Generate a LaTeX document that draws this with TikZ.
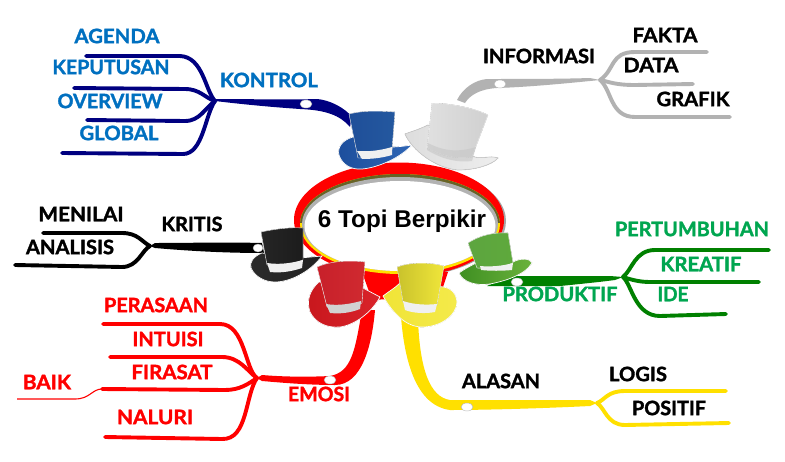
\documentclass[tikz,border=0pt]{standalone}
\usepackage{graphicx}
\usepackage{fontspec}
\setmainfont{Liberation Sans}
\newfontfamily\lblfont[BoldFeatures={FakeBold=1.6}]{Lato}
\usetikzlibrary{shapes.geometric}
\definecolor{cblue}{HTML}{000080}
\definecolor{cgray}{HTML}{B2B2B2}
\definecolor{cgreen}{HTML}{008000}
\definecolor{cyel}{HTML}{FFE000}
\definecolor{tblue}{HTML}{0070C0}
\definecolor{tgreen}{HTML}{00A650}
\newcommand{\lbl}[2]{\resizebox{#1pt}{14.5pt}{\lblfont\bfseries #2}}
\tikzset{
  leaf/.style={draw=#1,line width=3.9,line cap=round,fill=none},
  trunk/.style={fill=#1,draw=none},
  dot/.style={ellipse,fill=white,draw=gray!60,line width=.4,minimum width=12,minimum height=8,inner sep=0},
  lab/.style={text=#1,inner sep=0},
  brim/.style n args={2}{/utils/exec={\definecolor{aa}{HTML}{#1}\definecolor{bb}{HTML}{#2}},draw=white,line width=.7,left color=aa,right color=bb},
  crown/.style n args={3}{/utils/exec={\definecolor{aa}{HTML}{#1}\definecolor{bb}{HTML}{#2}\definecolor{cc}{HTML}{#3}},draw=white,line width=.4,left color=aa,middle color=bb,right color=cc},
  band/.style={fill=white!88!gray,draw=none},
}
\begin{document}
\begin{tikzpicture}[x=1pt,y=-1pt]
\useasboundingbox (0,0) rectangle (785,461);
\fill[white] (0,0) rectangle (785,461);
% junctions and leaf ends
\coordinate (jb) at (215,101);
\coordinate (b1) at (86,56); \coordinate (b2) at (74,88); \coordinate (b3) at (87,120); \coordinate (b4) at (62,153);
\coordinate (jw) at (600,80);
\coordinate (w1) at (707,52); \coordinate (w2) at (693,84); \coordinate (w3) at (730,117);
\coordinate (jk) at (150,246);
\coordinate (k1) at (43,233); \coordinate (k2) at (15,265);
\coordinate (jr) at (257,378);
\coordinate (r1) at (103,324); \coordinate (r2) at (110,357); \coordinate (r3) at (102,389); \coordinate (r4) at (105,437); \coordinate (r5) at (17,399);
\coordinate (jy) at (597,403);
\coordinate (y1) at (726,391); \coordinate (y2) at (729,423);
\coordinate (jg) at (623,277);
\coordinate (g1) at (769,250); \coordinate (g2) at (759,282); \coordinate (g3) at (726,314);
% blue
\draw[leaf=cblue] (jb) .. controls (205,90) and (203,57) .. (180,56) -- (b1);
\draw[leaf=cblue] (jb) .. controls (205,98) and (200,89) .. (185,89) -- (b2);
\draw[leaf=cblue] (jb) .. controls (205,108) and (200,121) .. (185,121) -- (b3);
\draw[leaf=cblue] (jb) .. controls (205,115) and (203,154) .. (183,154) -- (b4);
\fill[trunk=cblue] (jb) -- (216,99) .. controls (250,99) and (290,100) .. (317,99) .. controls (330,100) and (345,108) .. (352,117) -- (350,127) .. controls (340,115) and (325,110) .. (300,109) .. controls (270,107) and (240,104) .. (jb) -- cycle;
% gray
\draw[leaf=cgray] (jw) .. controls (615,70) and (610,52) .. (635,52) -- (w1);
\draw[leaf=cgray] (jw) .. controls (610,82) and (615,85) .. (635,85) -- (w2);
\draw[leaf=cgray] (jw) .. controls (612,90) and (610,117) .. (635,117) -- (w3);
\fill[trunk=cgray] (jw) -- (590,78) .. controls (560,79) and (520,79) .. (487,79) .. controls (475,80) and (463,88) .. (457,100) -- (465,103) .. controls (470,95) and (480,89) .. (497,88) .. controls (530,87) and (570,83) .. (jw) -- cycle;
% black
\draw[leaf=black] (jk) .. controls (142,242) and (138,233) .. (122,233) -- (k1);
\draw[leaf=black] (jk) .. controls (142,250) and (138,267) .. (122,267) -- (k2);
\fill[trunk=black] (jk) -- (155,243) .. controls (190,243) and (225,242) .. (262,243) -- (264,253) .. controls (225,253) and (190,251) .. (155,248) -- cycle;
% red
\draw[leaf=red] (jr) .. controls (245,370) and (245,324) .. (220,324) -- (r1);
\draw[leaf=red] (jr) .. controls (248,372) and (240,357) .. (222,357) -- (r2);
\draw[leaf=red] (jr) .. controls (248,384) and (240,390) .. (225,390) -- (r3);
\draw[leaf=red] (jr) .. controls (245,395) and (248,440) .. (222,439) -- (r4);
\draw[draw=red,line width=1.1] (r3) .. controls (92,389) and (90,399) .. (75,399) -- (r5);
\fill[trunk=red] (jr) -- (262,375) .. controls (285,377) and (310,377) .. (330,376) .. controls (352,372) and (355,350) .. (362,310) -- (375,310) .. controls (372,345) and (362,385) .. (335,385) .. controls (310,385) and (285,383) .. (262,381) -- cycle;
% yellow
\draw[leaf=cyel] (jy) .. controls (605,400) and (607,391) .. (625,391) -- (y1);
\draw[leaf=cyel] (jy) .. controls (605,408) and (607,425) .. (625,425) -- (y2);
\fill[trunk=cyel] (jy) -- (590,400) .. controls (550,400) and (490,400) .. (450,400) .. controls (430,397) and (420,370) .. (418,320) -- (400,300) .. controls (402,350) and (412,405) .. (450,410) .. controls (490,410) and (550,408) .. (590,406) -- cycle;
% green
\draw[leaf=cgreen] (jg) .. controls (632,270) and (635,250) .. (655,250) -- (g1);
\draw[leaf=cgreen] (jg) .. controls (632,280) and (640,282) .. (650,282) -- (g2);
\draw[leaf=cgreen] (jg) .. controls (632,285) and (635,316) .. (660,316) -- (g3);
\fill[trunk=cgreen] (jg) -- (610,276) -- (510,276) -- (487,286) -- (560,286) .. controls (580,284) and (600,282) .. (615,280) -- cycle;
% ring
\node[ellipse,inner sep=0,minimum width=210,minimum height=113,fill=gray!70] (ringshadow) at (401,221) {};
\node[ellipse,inner sep=0,minimum width=210,minimum height=115,fill=red] (ring) at (399,220) {};
\fill[red] (362,272) -- (448,272) -- (440,296) -- (372,300) -- cycle;
\node[ellipse,inner sep=0,minimum width=200,minimum height=100,fill=cyel] (ringy) at (400,224) {};
\begin{scope}
\clip (290,160) rectangle (510,222);
\node[ellipse,inner sep=0,minimum width=200,minimum height=100,fill=black!35!olive] (ringo) at (400,224) {};
\end{scope}
\node[ellipse,inner sep=0,minimum width=196,minimum height=94,fill=gray!60] (rings) at (400,224) {};
\node[ellipse,inner sep=0,minimum width=191,minimum height=90,fill=white] (ringi) at (400,226) {};
\node[inner sep=0] (title) at (402,221) {\resizebox{168pt}{!}{\bfseries 6 Topi Berpikir}};
% blue hat
\fill[brim={1C4E9C}{2F66B5}] (353,137) .. controls (342,140) and (337,148) .. (339,155) .. controls (342,165) and (352,170) .. (362,169) .. controls (375,168) and (398,160) .. (412,145) .. controls (405,146) and (398,147) .. (392,147) -- cycle;
\fill[crown={1F4F99}{4F83CC}{24589F}] (349,114) .. controls (365,110) and (380,111) .. (395,112) -- (392,150) .. controls (380,156) and (368,158) .. (358,158) -- cycle;
\fill[band] (357,151) .. controls (370,152) and (382,150) .. (392,147) -- (392,155) .. controls (382,158) and (372,159) .. (362,159) -- cycle;
% white hat
\fill[brim={DDDDDD}{EEEEEE},draw=gray!40] (428,125) .. controls (418,130) and (410,132) .. (405,134) .. controls (412,150) and (435,168) .. (458,170) .. controls (475,170) and (492,165) .. (498,158) .. controls (490,155) and (480,160) .. (472,156) -- cycle;
\fill[crown={E0E0E0}{FFFFFF}{D0D0D0},draw=white] (432,103) .. controls (450,103) and (475,108) .. (488,115) -- (472,157) .. controls (455,160) and (440,155) .. (427,148) -- cycle;
\fill[gray!45,opacity=.6] (428,143) .. controls (445,152) and (460,152) .. (476,147) -- (472,161) .. controls (455,163) and (440,158) .. (427,150) -- cycle;
% black hat
\fill[brim={2A2A2A}{222222}] (262,253) .. controls (254,256) and (249,262) .. (251,268) .. controls (255,277) and (265,282) .. (275,282) .. controls (290,282) and (310,272) .. (322,256) -- (300,258) -- cycle;
\fill[crown={252525}{8C8C8C}{1C1C1C}] (261,232) .. controls (275,229) and (290,227) .. (303,228) -- (303,260) .. controls (290,265) and (278,266) .. (267,265) -- cycle;
\fill[band] (267,263) .. controls (280,265) and (292,263) .. (303,260) -- (302,268) .. controls (290,272) and (280,273) .. (270,272) -- cycle;
% red hat
\fill[brim={C8171D}{D9232A}] (319,282) .. controls (310,290) and (306,300) .. (310,312) .. controls (316,324) and (328,328) .. (340,327) .. controls (355,325) and (372,312) .. (380,297) -- (363,288) -- cycle;
\fill[crown={C8202A}{A01218}{D02A30}] (317,267) .. controls (330,261) and (350,260) .. (365,262) -- (362,303) .. controls (350,308) and (338,309) .. (327,307) -- cycle;
\fill[band,fill=gray!35] (326,304) .. controls (338,306) and (350,304) .. (361,301) -- (360,309) .. controls (350,313) and (340,314) .. (330,313) -- cycle;
% yellow hat
\fill[brim={F0E437}{F4EA4A}] (400,283) .. controls (395,288) and (388,292) .. (383,296) .. controls (392,312) and (405,326) .. (420,327) .. controls (440,328) and (457,315) .. (457,302) .. controls (456,292) and (450,288) .. (444,287) -- cycle;
\fill[crown={C9C22C}{F2E93C}{F0E63A}] (397,267) .. controls (410,262) and (430,262) .. (444,266) -- (437,305) .. controls (425,308) and (412,306) .. (403,302) -- cycle;
\fill[band] (403,301) .. controls (415,305) and (427,305) .. (437,304) -- (435,312) .. controls (425,314) and (412,313) .. (405,310) -- cycle;
% green hat
\fill[brim={3F8F22}{6AB23C}] (478,262) .. controls (470,266) and (463,270) .. (459,273) .. controls (463,282) and (475,286) .. (490,284) .. controls (505,281) and (525,275) .. (532,263) .. controls (530,258) and (520,258) .. (513,262) -- cycle;
\fill[crown={5DA53F}{A4D484}{5EA93C}] (468,243) .. controls (480,235) and (495,232) .. (508,233) -- (513,263) .. controls (500,268) and (488,269) .. (477,268) -- cycle;
\fill[band] (480,266) .. controls (490,267) and (503,266) .. (513,263) -- (512,270) .. controls (502,271) and (490,271) .. (481,270) -- cycle;
% dots
\node[dot] (db) at (306,104) {};
\node[dot] (dw) at (500,84) {};
\node[dot,minimum width=10] (dk) at (258,248) {};
\node[dot] (dr) at (330,380) {};
\node[dot] (dy) at (467,407) {};
\node[dot] (dg) at (517,282) {};
% labels
\node[lab=tblue] (agenda) at (117,36) {\lbl{85}{AGENDA}};
\node[lab=tblue] (keputusan) at (111,67) {\lbl{117}{KEPUTUSAN}};
\node[lab=tblue] (kontrol) at (269,80) {\lbl{98}{KONTROL}};
\node[lab=tblue] (overview) at (110,101) {\lbl{105}{OVERVIEW}};
\node[lab=tblue] (global) at (119,133) {\lbl{79}{GLOBAL}};
\node[lab=black] (informasi) at (539,56) {\lbl{112}{INFORMASI}};
\node[lab=black] (fakta) at (665,35) {\lbl{65}{FAKTA}};
\node[lab=black] (data) at (651,65) {\lbl{55}{DATA}};
\node[lab=black] (grafik) at (693,99) {\lbl{73}{GRAFIK}};
\node[lab=black] (menilai) at (81,214) {\lbl{85}{MENILAI}};
\node[lab=black] (kritis) at (192,224) {\lbl{61}{KRITIS}};
\node[lab=black] (analisis) at (70,247) {\lbl{88}{ANALISIS}};
\node[lab=tgreen] (pertumbuhan) at (692,229) {\lbl{154}{PERTUMBUHAN}};
\node[lab=tgreen] (kreatif) at (701,264) {\lbl{81}{KREATIF}};
\node[lab=tgreen] (ide) at (673,294) {\lbl{31}{IDE}};
\node[lab=tgreen] (produktif) at (560,294) {\lbl{115}{PRODUKTIF}};
\node[lab=red] (perasaan) at (156,305) {\lbl{104}{PERASAAN}};
\node[lab=red] (intuisi) at (168,339) {\lbl{71}{INTUISI}};
\node[lab=red] (firasat) at (172,372) {\lbl{81}{FIRASAT}};
\node[lab=red] (baik) at (47,382) {\lbl{48}{BAIK}};
\node[lab=red] (naluri) at (155,417) {\lbl{76}{NALURI}};
\node[lab=red] (emosi) at (319,394) {\lbl{62}{EMOSI}};
\node[lab=black] (alasan) at (501,381) {\lbl{78}{ALASAN}};
\node[lab=black] (logis) at (638,374) {\lbl{58}{LOGIS}};
\node[lab=black] (positif) at (669,408) {\lbl{74}{POSITIF}};
\end{tikzpicture}
\end{document}
